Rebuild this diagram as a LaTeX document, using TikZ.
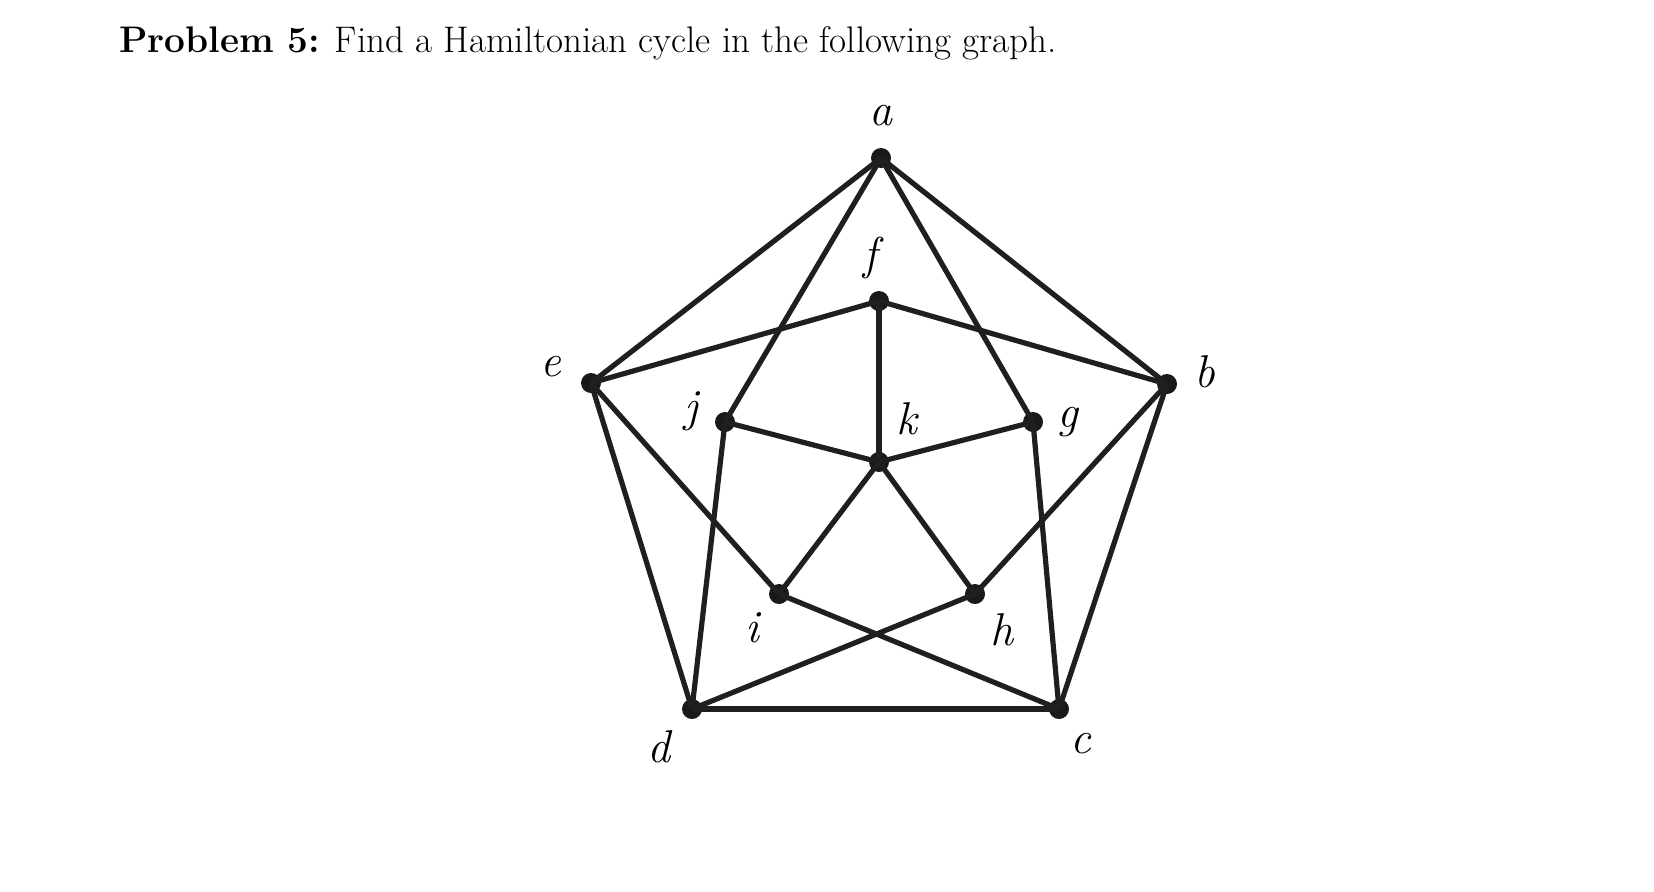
\documentclass[tikz,border=0pt]{standalone}
\begin{document}
\begin{tikzpicture}[x=0.5pt,y=-0.5pt,
  vtx/.style={circle,fill=black!90,inner sep=0pt,minimum size=10pt},
  lbl/.style={font=\fontsize{23}{26}\selectfont\itshape},
  edge/.style={line width=2.6pt,black!88}]
\useasboundingbox (0,0) rectangle (1654,891);
\node[anchor=west,font=\fontsize{18.5}{22}\selectfont] (title) at (112,43) {\textbf{Problem 5:} Find a Hamiltonian cycle in the following graph.};
\node[vtx] (a) at (881,158) {};
\node[vtx] (f) at (879,301) {};
\node[vtx] (e) at (591,383) {};
\node[vtx] (b) at (1167,384) {};
\node[vtx] (j) at (725,422) {};
\node[vtx] (g) at (1033,422) {};
\node[vtx] (k) at (879,462) {};
\node[vtx] (i) at (779,594) {};
\node[vtx] (h) at (975,594) {};
\node[vtx] (d) at (692,709) {};
\node[vtx] (c) at (1059,709) {};
\foreach \u/\v in {a/e,a/b,a/j,a/g,f/e,f/b,f/k,e/d,e/i,b/c,b/h,j/k,j/d,g/k,g/c,k/i,k/h,i/c,h/d,d/c}
  \draw[edge] (\u.center) -- (\v.center);
\node[lbl] (la) at (881,116) {a};
\node[lbl] (lf) at (870,258) {f};
\node[lbl] (le) at (551,367) {e};
\node[lbl] (lb) at (1205,372) {b};
\node[lbl] (lj) at (691,411) {j};
\node[lbl] (lk) at (907,419) {k};
\node[lbl] (lg) at (1068,422) {g};
\node[lbl] (li) at (752,628) {i};
\node[lbl] (lh) at (1002,630) {h};
\node[lbl] (ld) at (659,747) {d};
\node[lbl] (lc) at (1081,744) {c};
\end{tikzpicture}
\end{document}
